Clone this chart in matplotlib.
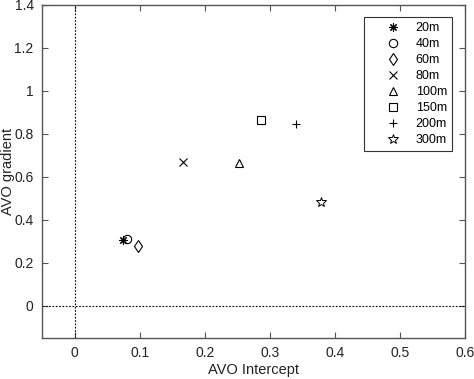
import matplotlib
matplotlib.use("Agg")
import matplotlib.pyplot as plt

plt.rcParams['font.family'] = ['Liberation Sans', 'DejaVu Sans']

labels = ['20m', '40m', '60m', '80m', '100m', '150m', '200m', '300m']
intercept = [0.075, 0.080, 0.098, 0.166, 0.253, 0.287, 0.341, 0.379]
gradient = [0.306, 0.309, 0.278, 0.670, 0.666, 0.864, 0.845, 0.484]
markers = [(8, 2, 0), 'o', 'd', 'x', '^', 's', '+', '*']
xticks = [0, 0.1, 0.2, 0.3, 0.4, 0.5, 0.6]
yticks = [0, 0.2, 0.4, 0.6, 0.8, 1.0, 1.2, 1.4]

fig = plt.figure(figsize=(4.74, 3.79), dpi=100)
ax = fig.add_axes([0.0886, 0.108, 0.8924, 0.879])

ax.axvline(0, color='black', linestyle=(0, (1.5, 1.5)), linewidth=0.8)
ax.axhline(0, color='black', linestyle=(0, (1.5, 1.5)), linewidth=0.8)

for lab, x, y, m in zip(labels, intercept, gradient, markers):
    if m == '*':
        ax.plot(x, y, linestyle='none', marker=m, markersize=7, markerfacecolor='none',
                markeredgecolor='black', markeredgewidth=0.7, label=lab)
    elif m in ('x', '+') or isinstance(m, tuple):
        ax.plot(x, y, linestyle='none', marker=m, markersize=6, color='black',
                markeredgewidth=0.8, label=lab)
    else:
        ax.plot(x, y, linestyle='none', marker=m, markersize=6, markerfacecolor='none',
                markeredgecolor='black', markeredgewidth=0.8, label=lab)

ax.set_xlim(-0.05, 0.6)
ax.set_ylim(-0.15, 1.4)
ax.set_xticks(xticks)
ax.set_xticklabels([f'{t:g}' for t in xticks])
ax.set_yticks(yticks)
ax.set_yticklabels([f'{t:g}' for t in yticks])
ax.tick_params(direction='in', top=True, right=True, length=4, width=0.8,
               color='#555555', labelsize=10, labelcolor='#222222', pad=6)
for s in ax.spines.values():
    s.set_color('#555555')
    s.set_linewidth(1.0)

ax.set_xlabel('AVO Intercept', fontsize=10.5, color='#222222', labelpad=2)
ax.set_ylabel('AVO gradient', fontsize=10.5, color='#222222')
ax.yaxis.set_label_coords(-0.064, 0.5)

leg = ax.legend(loc='upper right', bbox_to_anchor=(0.969, 0.964), fontsize=9,
                frameon=True, fancybox=False, edgecolor='black', handlelength=3.7,
                handletextpad=0.0, labelspacing=0.32, borderpad=0.4, borderaxespad=0)
leg.get_frame().set_linewidth(0.8)

fig.savefig('out.png', dpi=100)
